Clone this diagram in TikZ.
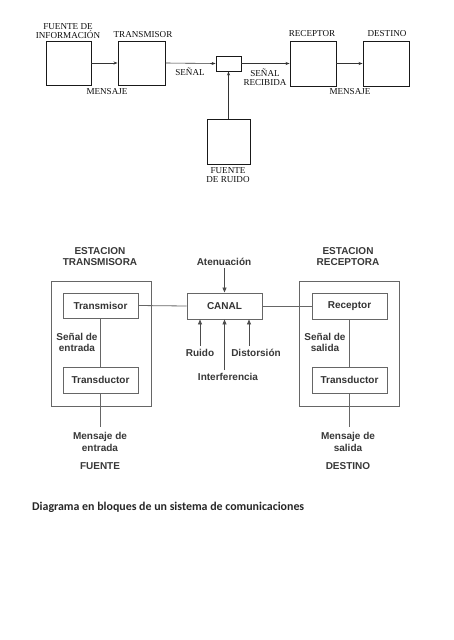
\documentclass[tikz,border=0pt]{standalone}
\usepackage{fontspec}
\setmainfont{Liberation Serif}
\newfontfamily\arialf{Liberation Sans}
\newfontfamily\calf{Carlito}
\usetikzlibrary{arrows.meta}
\begin{document}
\begin{tikzpicture}[x=1pt,y=-1pt,
  tbox/.style={draw=black!90,line width=0.9pt,inner sep=0pt},
  tlab/.style={font=\fontsize{9.1}{9}\selectfont,text=black!95,align=center,inner sep=0pt},
  tarr/.style={draw=black!80,line width=0.6pt,-{Stealth[length=4pt,width=3pt]}},
  bbox/.style={draw=black!60,line width=0.9pt,inner sep=0pt,minimum width=75pt,minimum height=26pt,font=\arialf\bfseries\fontsize{10}{11}\selectfont,text=black!80},
  obox/.style={draw=black!60,line width=0.9pt,inner sep=0pt,minimum width=100pt,minimum height=125pt},
  blab/.style={font=\arialf\bfseries\fontsize{10}{11.5}\selectfont,text=black!78,align=center,inner sep=0pt},
  bline/.style={draw=black!60,line width=0.8pt},
  barr/.style={draw=black!70,line width=0.8pt,-{Triangle[length=5pt,width=4pt]}}]
\useasboundingbox[fill=white] (0,0) rectangle (453,640);
% ---------- top diagram ----------
\node[tbox,minimum width=45pt,minimum height=44pt] (fuente) at (68.5,63) {};
\node[tbox,minimum width=47pt,minimum height=44pt] (trans) at (141.5,63) {};
\node[tbox,minimum width=25pt,minimum height=15pt] (mix) at (228.5,63.5) {};
\node[tbox,minimum width=46pt,minimum height=45pt] (recep) at (313,63.5) {};
\node[tbox,minimum width=46pt,minimum height=45pt] (dest) at (386,63.5) {};
\node[tbox,minimum width=43pt,minimum height=45pt] (ruido) at (228.5,141.5) {};
\draw[tarr] (fuente.east) -- (trans.west);
\draw[tarr] (trans.east) -- (mix.west);
\draw[tarr] (mix.east) -- (recep.west);
\draw[tarr] (recep.east) -- (dest.west);
\draw[tarr] (ruido.north) -- (mix.south);
\node[tlab] (lfuente) at (68,31) {FUENTE DE\\INFORMACIÓN};
\node[tlab] (ltrans) at (143,35) {TRANSMISOR};
\node[tlab] (lmen1) at (107,92) {MENSAJE};
\node[tlab] (lsen) at (190,72) {SEÑAL};
\node[tlab] (lsenr) at (265,77) {SEÑAL\\RECIBIDA};
\node[tlab] (lrecep) at (312,34) {RECEPTOR};
\node[tlab] (ldest) at (387,34) {DESTINO};
\node[tlab] (lmen2) at (350,92) {MENSAJE};
\node[tlab] (lruido) at (228,175.5) {FUENTE\\DE RUIDO};
% ---------- bottom diagram ----------
\node[obox] (estT) at (101,343.5) {};
\node[obox] (estR) at (349,343.5) {};
\node[bbox,minimum height=25pt] (tx) at (100.5,305.5) {Transmisor};
\node[bbox] (td1) at (100.5,380) {Transductor};
\node[bbox] (canal) at (224.5,306) {CANAL};
\node[bbox] (rx) at (349.5,306) {Receptor};
\node[bbox] (td2) at (349.5,380) {Transductor};
\coordinate (m1) at (100.5,427);
\coordinate (m2) at (349.5,427);
\draw[bline] (tx.south) -- (td1.north);
\draw[bline] (td1.south) -- (m1);
\draw[bline] (rx.south) -- (td2.north);
\draw[bline] (td2.south) -- (m2);
\draw[bline] (tx.east) -- (canal.west);
\draw[bline] (canal.east) -- (rx.west);
\node[blab] (lestT) at (100,256.5) {ESTACION\\TRANSMISORA};
\node[blab] (lestR) at (348,256.5) {ESTACION\\RECEPTORA};
\node[blab] (lsen1) at (77,342.5) {Señal de\\entrada};
\node[blab] (lsen2) at (325,342.5) {Señal de\\salida};
\node[blab] (lmsg1) at (100,442) {Mensaje de\\entrada};
\node[blab] (lmsg2) at (348,442) {Mensaje de\\salida};
\node[blab] (lfu) at (100,466) {FUENTE};
\node[blab] (lde) at (348,466) {DESTINO};
\node[blab] (laten) at (224,262) {Atenuación};
\node[blab] (lrui) at (200,353) {Ruido};
\node[blab] (ldis) at (256,353) {Distorsión};
\node[blab] (lint) at (228,377) {Interferencia};
\coordinate (aten) at (224.5,268);
\coordinate (rui) at (200,346);
\coordinate (int) at (224.5,370);
\coordinate (dis) at (249,346);
\draw[barr] (aten) -- (canal.north);
\draw[barr] (rui) -- (rui |- canal.south);
\draw[barr] (int) -- (canal.south);
\draw[barr] (dis) -- (dis |- canal.south);
% ---------- caption ----------
\node[font=\calf\bfseries\fontsize{11.9}{12}\selectfont,text=black!85,inner sep=0pt,anchor=west] (cap) at (32,507) {Diagrama en bloques de un sistema de comunicaciones};
\end{tikzpicture}
\end{document}
